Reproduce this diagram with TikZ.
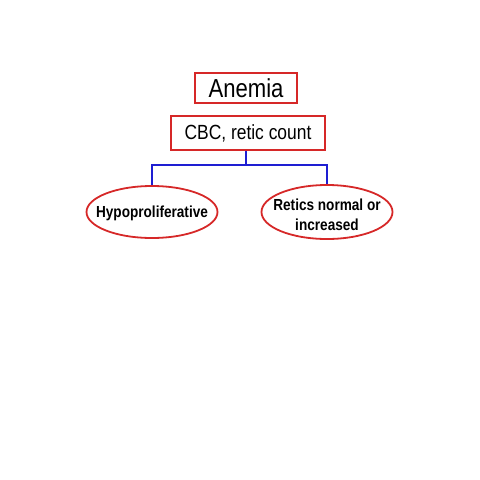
\documentclass[tikz,border=0pt]{standalone}
\usepackage{fontspec}
\setmainfont{Liberation Sans}[FakeStretch=0.85]
\usetikzlibrary{shapes.geometric}
\definecolor{boxred}{RGB}{214,40,40}
\definecolor{lineblue}{RGB}{30,30,210}
\begin{document}
\begin{tikzpicture}[x=1pt,y=-1pt,
  rbox/.style={draw=boxred,line width=1.8pt,inner sep=0pt},
  oval/.style={draw=boxred,line width=1.8pt,ellipse,inner sep=0pt,minimum width=131pt},
  ovaltext/.style={align=center,inner sep=0pt,font=\fontsize{16}{20}\selectfont\bfseries},
  conn/.style={draw=lineblue,line width=2pt}]
\useasboundingbox (0,0) rectangle (480,480);
\node[rbox,minimum width=102pt,minimum height=30pt,font=\fontsize{26}{30}\selectfont] (anemia) at (246,88) {Anemia};
\node[rbox,minimum width=154pt,minimum height=34pt,font=\fontsize{20.5}{24}\selectfont] (cbc) at (248,133) {CBC, retic count};
\node[oval,minimum height=52pt] (hypo) at (152,212) {};
\node[ovaltext] (hypot) at (152,213) {Hypoproliferative};
\node[oval,minimum height=54pt] (retic) at (327,212) {};
\node[ovaltext] (retict) at (327,215) {Retics normal or\\increased};
\coordinate (mid) at (246,165);
\draw[conn] (cbc.south -| mid) -- (mid);
\draw[conn] (hypo.north) |- (mid) -| (retic.north);
\end{tikzpicture}
\end{document}
